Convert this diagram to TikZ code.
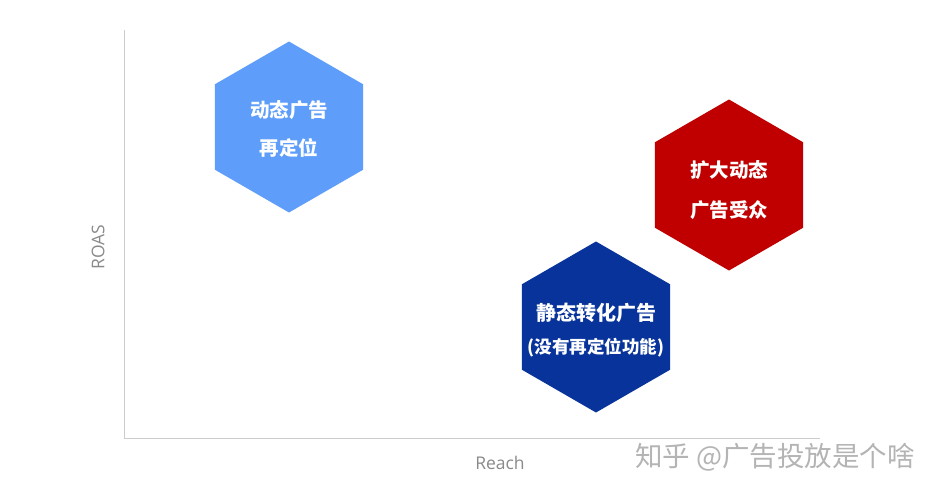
\documentclass[tikz,border=0pt]{standalone}
\usepackage{fontspec}
\setmainfont{Open Sans}
\newfontfamily\cjk{Noto Sans CJK SC}
\usetikzlibrary{shapes.geometric}
\definecolor{lightblue}{HTML}{5E9EFA}
\definecolor{darkblue}{HTML}{07339A}
\definecolor{darkred}{HTML}{C00000}
\definecolor{axisgray}{HTML}{CCCCCC}
\definecolor{labelgray}{HTML}{8A8A8A}
\definecolor{markgray}{HTML}{B4B4B4}
\begin{document}
\begin{tikzpicture}[x=1pt,y=-1pt,
  hexa/.style={regular polygon, regular polygon sides=6, shape border rotate=30,
    minimum size=171pt, inner sep=0pt, draw=none, fill=#1},
  hextext/.style={text=white, font=\cjk\bfseries, align=center, inner sep=0pt},
  axis/.style={draw=axisgray, line width=1pt},
  axlabel/.style={text=labelgray, font=\fontsize{17.5}{20}\selectfont, inner sep=0pt}]
\useasboundingbox (0,0) rectangle (940,495);
\fill[white] (0,0) rectangle (940,495);
% axes
\coordinate (ytop) at (124,30);
\coordinate (origin) at (124,438);
\coordinate (xend) at (820,438);
\draw[axis] (ytop) -- (origin) -- (xend);
\node[axlabel, rotate=90] (roas) at (98,247) {ROAS};
\node[axlabel] (reach) at (500,463) {Reach};
% hexagons
\node[hexa=lightblue] (hexA) at (289,127) {};
\node[hexa=darkred] (hexB) at (729,185) {};
\node[hexa=darkblue] (hexC) at (596,327) {};
% texts
\node[hextext] (tA1) at (289,110) {\fontsize{19.5}{22}\selectfont 动态广告};
\node[hextext] (tA2) at (289,148) {\fontsize{19.5}{22}\selectfont 再定位};
\node[hextext] (tB1) at (729,170) {\fontsize{19.5}{22}\selectfont 扩大动态};
\node[hextext] (tB2) at (729,210) {\fontsize{19.5}{22}\selectfont 广告受众};
\node[hextext] (tC1) at (596,313) {\fontsize{20}{22}\selectfont 静态转化广告};
\node[hextext] (tC2) at (596,348) {\fontsize{17.5}{20}\selectfont (没有再定位功能)};
% watermark
\node[text=markgray, font=\cjk\fontsize{27.5}{30}\selectfont, inner sep=0pt, anchor=west] (mark) at (635,457) {知乎 @广告投放是个啥};
\end{tikzpicture}
\end{document}
